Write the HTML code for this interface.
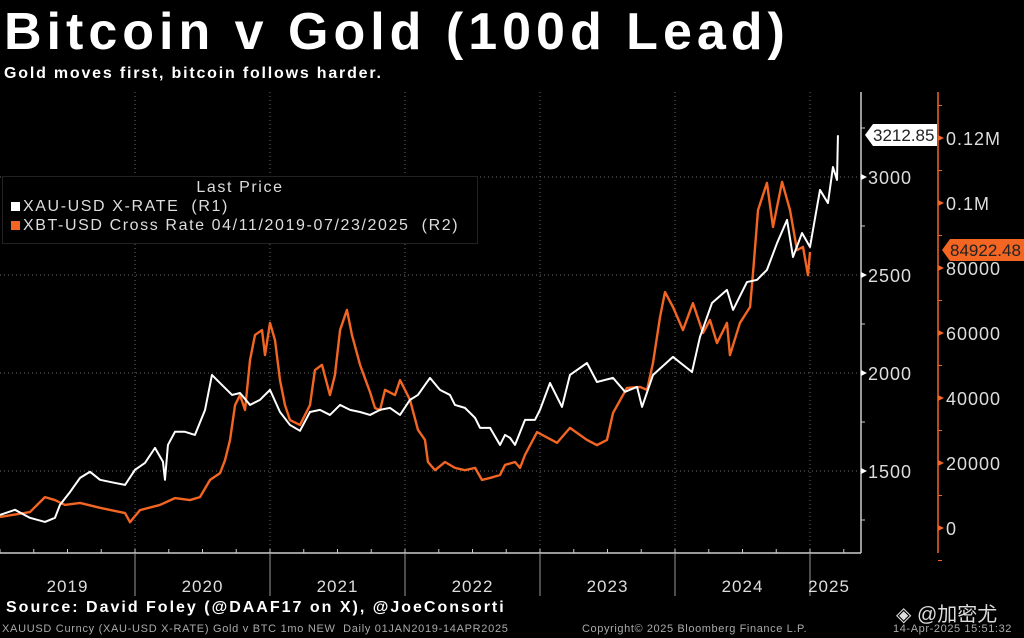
<!DOCTYPE html>
<html><head><meta charset="utf-8"><style>
html,body{margin:0;padding:0;background:#000;width:1024px;height:638px;overflow:hidden;font-family:"Liberation Sans","Noto Sans CJK SC",sans-serif}
.t{position:absolute;color:#fff;white-space:nowrap}
</style></head><body>
<div class="t" style="left:4px;top:2px;font-size:52px;font-weight:bold;letter-spacing:5px">Bitcoin v Gold (100d Lead)</div>
<div class="t" style="left:4px;top:65px;font-size:16px;font-weight:bold;letter-spacing:1.8px">Gold moves first, bitcoin follows harder.</div>
<svg id="chart" width="1024" height="638" style="position:absolute;left:0;top:0"></svg>
<div class="t" style="left:2px;top:176px;width:474px;height:66px;border:1px solid #222;background:#000;font-size:16px;color:#ddd;letter-spacing:1.6px">
 <div style="text-align:center;margin-top:2px">Last Price</div>
 <div style="margin-left:8px;margin-top:1px"><span style="display:inline-block;width:9px;height:9px;background:#fff;margin-right:3px"></span>XAU-USD X-RATE &nbsp;(R1)</div>
 <div style="margin-left:8px;margin-top:1px"><span style="display:inline-block;width:9px;height:9px;background:#f26522;margin-right:3px"></span>XBT-USD Cross Rate 04/11/2019-07/23/2025 &nbsp;(R2)</div>
</div>
<div class="t" style="left:6px;top:599px;font-size:16px;font-weight:bold;letter-spacing:2px">Source: David Foley (@DAAF17 on X), @JoeConsorti</div>
<div class="t" style="left:2px;top:623px;font-size:11px;color:#aaa;letter-spacing:0.7px">XAUUSD Curncy (XAU-USD X-RATE) Gold v BTC 1mo NEW &nbsp;Daily 01JAN2019-14APR2025</div>
<div class="t" style="left:582px;top:623px;font-size:11px;color:#aaa;letter-spacing:0.6px">Copyright© 2025 Bloomberg Finance L.P.</div>
<div class="t" style="left:893px;top:623px;font-size:11px;color:#aaa;letter-spacing:0.6px">14-Apr-2025 15:51:32</div>
<div class="t" style="left:896px;top:598px;font-size:20px;color:#ddd">◈ @加密尤</div>
<script>
const goldDates=[2019.000,2019.111,2019.222,2019.333,2019.407,2019.444,2019.519,2019.593,2019.667,2019.741,2019.852,2019.926,2020.000,2020.074,2020.148,2020.207,2020.222,2020.244,2020.296,2020.370,2020.444,2020.519,2020.570,2020.644,2020.719,2020.778,2020.852,2020.926,2021.000,2021.074,2021.148,2021.222,2021.296,2021.370,2021.444,2021.519,2021.593,2021.667,2021.741,2021.815,2021.889,2021.963,2022.037,2022.096,2022.148,2022.185,2022.259,2022.333,2022.370,2022.444,2022.519,2022.556,2022.630,2022.704,2022.741,2022.778,2022.815,2022.889,2022.963,2023.000,2023.074,2023.163,2023.222,2023.348,2023.422,2023.541,2023.630,2023.719,2023.756,2023.837,2023.985,2024.126,2024.185,2024.274,2024.385,2024.430,2024.533,2024.607,2024.681,2024.756,2024.830,2024.874,2024.941,2025.000,2025.074,2025.133,2025.170,2025.200,2025.207];
const goldValues=[1276,1302,1261,1240,1261,1327,1393,1465,1496,1455,1439,1429,1506,1541,1618,1547,1455,1633,1700,1700,1684,1812,1990,1939,1888,1898,1837,1863,1914,1801,1735,1705,1801,1812,1786,1837,1812,1801,1786,1812,1822,1786,1863,1888,1939,1975,1914,1888,1837,1822,1771,1720,1720,1633,1684,1669,1633,1761,1761,1812,1949,1827,1990,2051,1954,1975,1904,1929,1827,1990,2082,2005,2184,2357,2424,2322,2464,2475,2526,2663,2781,2592,2714,2643,2934,2867,3051,2985,3212.85];
const btcDates=[2019.000,2019.222,2019.333,2019.407,2019.481,2019.593,2019.741,2019.926,2019.963,2020.037,2020.185,2020.296,2020.407,2020.481,2020.556,2020.630,2020.667,2020.704,2020.741,2020.778,2020.815,2020.852,2020.889,2020.941,2020.963,2021.000,2021.037,2021.074,2021.111,2021.148,2021.222,2021.296,2021.333,2021.385,2021.444,2021.481,2021.519,2021.570,2021.607,2021.667,2021.741,2021.778,2021.815,2021.852,2021.926,2021.963,2022.000,2022.037,2022.096,2022.148,2022.170,2022.222,2022.296,2022.370,2022.444,2022.519,2022.570,2022.630,2022.704,2022.741,2022.815,2022.852,2022.889,2022.978,2023.126,2023.222,2023.348,2023.422,2023.496,2023.541,2023.644,2023.741,2023.793,2023.837,2023.889,2023.926,2023.985,2024.059,2024.133,2024.207,2024.259,2024.311,2024.385,2024.407,2024.481,2024.556,2024.578,2024.615,2024.681,2024.726,2024.793,2024.852,2024.904,2024.948,2024.985,2025.000];
const btcValues=[3400,4900,9500,8600,7100,7700,6200,4600,1800,5500,7100,9200,8600,9500,14800,16900,20900,27100,37800,40900,36300,51700,59400,60900,53200,63100,57800,45500,37800,33200,31700,37800,48600,50200,40900,47100,60900,67100,59400,50200,41800,36900,36300,42500,40900,45500,42500,39400,30200,27100,20300,17800,20300,18500,17800,18500,14800,15400,16300,19400,20300,18500,22500,29500,26200,30800,27100,25500,27100,35400,43100,43400,42500,50800,64900,72600,68000,60900,69200,60000,64000,56900,63100,53200,63100,68000,78500,97800,106200,92600,106500,97800,85500,86500,77800,84922.48];
const goldTicks=[1500,2000,2500,3000];
const btcTicks=[0,20000,40000,60000,80000,100000,120000];
const btcTickLabels=["0","20000","40000","60000","80000","0.1M","0.12M"];
const yearLabels=["2019","2020","2021","2022","2023","2024","2025"];

const NS="http://www.w3.org/2000/svg";
const svg=document.getElementById('chart');
const X=t=>(t-2019)*135;
const YG=v=>177+(3000-v)*98/500;
const YB=v=>528-v*65/20000;
const FONT='Liberation Sans, sans-serif';
function mk(tag,attrs,parent){const e=document.createElementNS(NS,tag);for(const k in attrs)e.setAttribute(k,attrs[k]);(parent||svg).appendChild(e);return e;}
for(let i=1;i<yearLabels.length;i++){
 const g=mk('line',{x1:X(2019+i),x2:X(2019+i),y1:92,y2:553,stroke:'#666','stroke-dasharray':'1,3'});
 
 
}
goldTicks.forEach(v=>{
 const g=mk('line',{x1:0,x2:861,y1:YG(v),y2:YG(v),stroke:'#666','stroke-dasharray':'1,3'});
 
 
});
const xa=mk('line',{x1:0,x2:861,y1:553,y2:553,stroke:'#ccc','stroke-width':1.5});


for(let m=0;m<76;m+=3){mk('line',{x1:X(2019+m/12),x2:X(2019+m/12),y1:553,y2:549,stroke:'#ccc'});}
yearLabels.forEach((y,i)=>{
 if(i>0){mk('line',{x1:X(2019+i),x2:X(2019+i),y1:553,y2:596,stroke:'#999'});}
 const x0=X(2019+i),x1=i<6?X(2020+i):848;
 const tx=mk('text',{x:(x0+x1)/2,y:592,fill:'#ddd','font-size':17,'letter-spacing':1,'text-anchor':'middle','font-family':FONT});
 tx.textContent=y;
 
 
});
const ga=mk('line',{x1:861,x2:861,y1:92,y2:553,stroke:'#ccc','stroke-width':1.5});


for(let v=1250;v<=3250;v+=250){mk('line',{x1:861,x2:865,y1:YG(v),y2:YG(v),stroke:'#ccc'});}
goldTicks.forEach(v=>{
 mk('path',{d:`M861 ${YG(v)-3}L867 ${YG(v)}L861 ${YG(v)+3}Z`,fill:'#fff'});
 const tx=mk('text',{x:868,y:YG(v)+7,fill:'#ddd','font-size':18,'letter-spacing':1,'font-family':FONT});
 tx.textContent=v;
 
 
});
const ba=mk('line',{x1:938,x2:938,y1:92,y2:553,stroke:'#f26522','stroke-width':1.5});


for(let v=-10000;v<=130000;v+=10000){mk('line',{x1:938,x2:942,y1:YB(v),y2:YB(v),stroke:'#f26522'});}
btcTicks.forEach((v,i)=>{
 mk('path',{d:`M938 ${YB(v)-3}L944 ${YB(v)}L938 ${YB(v)+3}Z`,fill:'#f26522'});
 const tx=mk('text',{x:946,y:YB(v)+7,fill:'#ddd','font-size':18,'letter-spacing':1,'font-family':FONT});
 tx.textContent=btcTickLabels[i];
 
 
});
const bp=mk('polyline',{points:btcDates.map((d,i)=>X(d)+','+YB(btcValues[i])).join(' '),fill:'none',stroke:'#f26522','stroke-width':2.4,'stroke-linejoin':'round'});


const gp=mk('polyline',{points:goldDates.map((d,i)=>X(d)+','+YG(goldValues[i])).join(' '),fill:'none',stroke:'#fff','stroke-width':2,'stroke-linejoin':'round'});


const gl=goldValues[goldValues.length-1],gy=135;
const gt=mk('path',{d:`M865 ${gy}L873 ${gy-11}L937 ${gy-11}L937 ${gy+11}L873 ${gy+11}Z`,fill:'#fff'});


const gtt=mk('text',{x:873,y:gy+6,fill:'#222','font-size':17,'font-family':FONT});
gtt.textContent=gl.toFixed(2);
const bl=btcValues[btcValues.length-1],by=YB(bl)-2;
const bt=mk('path',{d:`M942 ${by}L950 ${by-11}L1024 ${by-11}L1024 ${by+11}L950 ${by+11}Z`,fill:'#f26522'});


const btt=mk('text',{x:950,y:by+6,fill:'#222','font-size':17,'font-family':FONT});
btt.textContent=bl.toFixed(2);
</script>
</body></html>
